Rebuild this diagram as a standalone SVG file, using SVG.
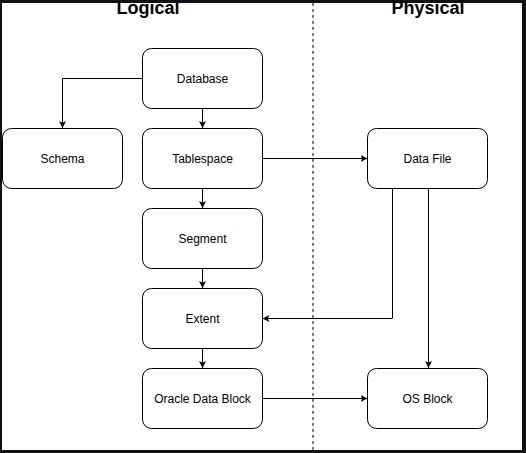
<svg xmlns="http://www.w3.org/2000/svg" width="526" height="453" viewBox="0 0 526 453">
<style>
.node rect{fill:#fff;stroke:#000;stroke-width:1}
.node text{font-family:"Liberation Sans",Arial,sans-serif;font-size:12px;fill:#000;text-anchor:middle;dominant-baseline:central}
.title{font-family:"Liberation Sans",Arial,sans-serif;font-size:18px;font-weight:bold;fill:#000;text-anchor:middle}
.edge{fill:none;stroke:#000;stroke-width:1}
</style>
<defs>
<marker id="arr" viewBox="0 0 10 10" refX="10" refY="5" markerWidth="7" markerHeight="7" markerUnits="userSpaceOnUse" orient="auto">
<path d="M0,0 L10,5 L0,10 L2.5,5 Z" fill="#000"/>
</marker>
</defs>
<rect x="0" y="0" width="526" height="453" fill="#111"/>
<rect x="2" y="3" width="520" height="447" fill="#fff"/>
<text class="title" x="148" y="14">Logical</text>
<text class="title" x="428" y="14">Physical</text>
<line x1="313" y1="3" x2="313" y2="450" stroke="#000" stroke-width="1" stroke-dasharray="3,3"/>
<g id="connectors">
<path class="edge" d="M142.5,78.5 H62.5 V128" marker-end="url(#arr)"/>
<path class="edge" d="M202.5,108.5 V128" marker-end="url(#arr)"/>
<path class="edge" d="M262.5,158.5 H367.5" marker-end="url(#arr)"/>
<path class="edge" d="M202.5,188.5 V208" marker-end="url(#arr)"/>
<path class="edge" d="M202.5,268.5 V288" marker-end="url(#arr)"/>
<path class="edge" d="M392.5,188.5 V318.5 H262.5" marker-end="url(#arr)"/>
<path class="edge" d="M428.5,188.5 V368" marker-end="url(#arr)"/>
<path class="edge" d="M202.5,348.5 V368" marker-end="url(#arr)"/>
<path class="edge" d="M262.5,398.5 H367.5" marker-end="url(#arr)"/>
</g>
<g id="database" class="node"><rect x="142.5" y="48.5" width="120" height="60" rx="9"/><text x="202.5" y="78.5">Database</text></g>
<g id="schema" class="node"><rect x="2.5" y="128.5" width="120" height="60" rx="9"/><text x="62.5" y="158.5">Schema</text></g>
<g id="tablespace" class="node"><rect x="142.5" y="128.5" width="120" height="60" rx="9"/><text x="202.5" y="158.5">Tablespace</text></g>
<g id="segment" class="node"><rect x="142.5" y="208.5" width="120" height="60" rx="9"/><text x="202.5" y="238.5">Segment</text></g>
<g id="extent" class="node"><rect x="142.5" y="288.5" width="120" height="60" rx="9"/><text x="202.5" y="318.5">Extent</text></g>
<g id="oracle-data-block" class="node"><rect x="142.5" y="368.5" width="120" height="60" rx="9"/><text x="202.5" y="398.5">Oracle Data Block</text></g>
<g id="data-file" class="node"><rect x="367.5" y="128.5" width="120" height="60" rx="9"/><text x="427.5" y="158.5">Data File</text></g>
<g id="os-block" class="node"><rect x="367.5" y="368.5" width="120" height="60" rx="9"/><text x="427.5" y="398.5">OS Block</text></g>
</svg>
